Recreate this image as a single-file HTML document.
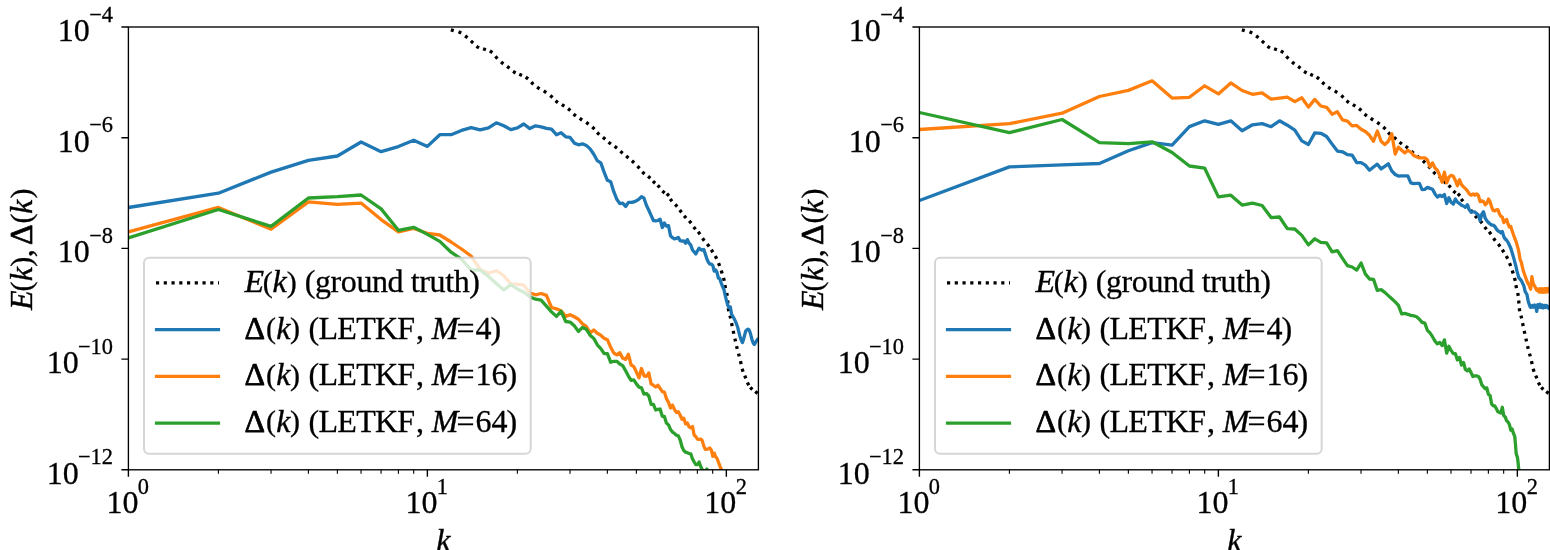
<!DOCTYPE html>
<html><head><meta charset="utf-8"><title>E(k), Δ(k) spectra</title>
<style>
html,body{margin:0;padding:0;background:#fff;}
body{width:1550px;height:550px;overflow:hidden;}
svg{display:block;}
text{font-family:"Liberation Serif","DejaVu Serif",serif;fill:#000;stroke:#000;stroke-width:0.3px;}
.t{font-size:32px;}
.s{font-size:22.4px;}
.i{font-style:italic;stroke-width:0.4px;}
.p{font-size:30px;}
.d{stroke-width:0.75px;}
.ln{fill:none;stroke-width:3.3;stroke-linejoin:round;stroke-linecap:butt;}
</style></head><body>
<svg width="1550" height="550" viewBox="0 0 1550 550">
<rect width="1550" height="550" fill="#fff"/>

<g id="panel0">
<defs><clipPath id="clip0"><rect x="128.4" y="27.0" width="630.0" height="442.8"/></clipPath></defs>
<g clip-path="url(#clip0)">
<path class="ln" d="M450.85 29.80L453.75 30.60M458.54 31.66L461.26 32.94M465.12 35.87L467.48 37.73M470.89 40.89L473.11 42.91M476.41 46.34L478.99 47.86M483.08 48.80L485.92 49.80M489.86 50.95L492.34 52.65M495.34 56.44L497.46 58.56M501.04 61.95L503.36 63.85M507.11 66.39L509.49 68.21M513.02 71.42L515.58 72.98M519.24 74.17L521.96 75.43M525.69 77.12L528.11 78.88M531.17 82.31L533.43 84.29M537.05 87.17L539.55 88.83M543.74 90.98L546.26 92.62M550.25 95.53L552.55 97.47M555.51 100.79L557.89 102.61M561.83 104.60L564.37 106.20M568.05 108.64L570.35 110.56M573.54 114.15L575.86 116.05M579.64 118.39L582.16 120.01M586.18 122.43L588.62 124.17M592.31 127.06L594.49 129.14M597.11 132.57L599.29 134.63M602.94 137.34L605.26 139.26M608.51 142.19L610.89 144.01M614.62 146.28L616.98 148.12M620.36 151.33L622.64 153.27M626.14 156.04L628.46 157.96M631.90 160.78L634.10 162.82M637.47 166.21L639.53 168.39M642.30 171.88L644.50 173.92M648.07 176.31L650.33 178.29M652.92 181.16L655.08 183.24M657.66 185.32L659.74 187.48M662.39 191.10L664.61 193.10M666.87 193.61L668.93 195.79M670.19 198.91L672.01 201.29M675.22 204.36L677.18 206.64M679.68 210.02L681.52 212.38M684.10 215.78L686.10 218.02M689.23 220.86L691.17 223.14M693.66 226.93L695.54 229.27M698.18 231.81L700.02 234.19M702.51 238.29L704.29 240.71M707.30 244.10L709.10 246.50M711.29 249.74L712.91 252.26M715.31 256.07L716.69 258.73M718.55 263.20L719.65 266.00M721.24 270.57L722.16 273.43M723.55 277.94L724.25 280.86M724.90 285.13L725.50 288.07M726.75 292.92L727.25 295.88M727.65 300.51L727.95 303.49M728.25 308.22L728.75 311.18M729.97 315.54L730.63 318.46M731.59 323.13L732.21 326.07M733.19 330.83L733.81 333.77M734.87 338.54L735.53 341.46M736.54 346.04L737.26 348.96M738.53 353.55L739.27 356.45M740.45 361.24L741.15 364.16M742.15 368.77L743.05 371.63M744.74 375.51L745.86 378.29M747.41 382.57L748.79 385.23M750.25 387.33L752.35 389.47M755.22 391.47L757.58 393.33" stroke="#000"/>
<path class="ln" d="M128.4 207.5L218.4 193.2L271.1 172.1L308.4 160.4L337.4 156.0L361.1 142.0L381.1 151.7L398.4 146.6L413.7 140.2L427.4 146.4L439.8 134.7L451.1 134.7L461.5 130.4L471.1 127.6L480.1 129.9L488.5 127.8L496.3 122.8L503.8 125.8L510.8 129.6L517.4 127.8L523.8 124.0L529.8 128.6L535.6 125.8L541.1 126.8L546.4 128.4L551.5 129.1L556.4 134.7L561.1 132.7L565.7 136.8L570.1 137.4L574.3 143.1L578.5 144.8L582.5 143.8L586.3 145.4L590.1 148.9L593.8 154.3L597.3 160.7L600.8 162.9L604.2 172.4L607.4 180.3L610.7 181.8L613.8 191.7L616.8 199.3L619.8 203.6L622.7 203.1L625.6 206.5L628.4 202.3L631.1 202.3L633.8 202.0L636.4 200.8L639.0 199.2L641.5 196.6L644.0 198.2L646.4 205.2L648.8 210.3L651.1 215.4L653.4 220.5L655.7 220.9L657.9 220.5L660.1 219.2L662.3 227.5L664.4 223.0L666.4 226.2L668.5 225.6L670.5 235.8L672.5 237.7L674.4 238.9L676.4 238.3L678.3 237.4L680.1 240.7L682.0 241.2L683.8 240.8L685.6 243.2L687.3 239.6L689.1 243.2L690.8 245.1L692.5 250.0L694.2 252.0L695.8 253.9L697.5 250.8L699.1 248.2L700.7 249.5L702.2 250.1L703.8 249.5L705.3 253.9L706.9 259.0L708.4 262.2L709.8 264.1L711.3 264.1L712.8 265.4L714.2 271.1L715.6 269.9L717.0 272.4L718.4 278.1L719.8 278.8L721.1 282.6L722.5 286.4L723.8 288.9L725.1 294.9L726.5 300.6L727.7 305.0L729.0 307.6L730.3 306.9L731.5 313.9L732.8 316.5L734.0 318.4L735.2 320.9L736.4 323.7L737.7 327.3L738.8 331.8L739.9 336.2L741.2 340.0L742.4 342.6L743.5 339.4L744.7 334.9L745.7 331.1L746.8 329.9L748.0 329.2L749.0 329.9L750.1 332.4L751.1 336.2L752.3 340.7L753.3 343.2L754.3 344.5L755.5 342.6L756.5 340.7L757.5 339.4L758.5 338.5" stroke="#1f77b4"/>
<path class="ln" d="M128.4 231.8L218.4 207.4L271.1 229.2L308.4 201.8L337.4 204.4L361.1 203.1L381.1 219.6L398.4 231.9L413.7 228.5L427.4 233.3L439.8 235.0L451.1 242.0L461.5 249.0L471.1 256.0L480.1 269.4L488.5 273.2L496.3 270.7L503.8 275.7L510.8 283.9L517.4 284.2L523.8 285.2L529.8 292.9L535.6 294.8L541.1 293.5L546.4 295.4L551.5 307.5L556.4 308.8L561.1 310.7L565.7 316.4L570.1 314.7L574.3 316.8L578.5 319.2L582.5 323.9L586.3 326.4L590.1 333.1L593.8 330.0L597.3 333.3L600.8 335.2L604.2 338.4L607.4 339.7L610.7 347.3L613.8 353.0L616.8 354.9L619.8 352.7L622.7 358.1L625.6 359.4L628.4 354.3L631.1 365.0L633.8 366.6L636.4 372.0L639.0 377.7L641.5 368.5L644.0 375.8L646.4 376.4L648.8 372.9L651.1 383.9L653.4 385.2L655.7 387.1L657.9 385.2L660.1 388.4L662.3 391.6L664.4 392.2L666.4 398.6L668.5 402.4L670.5 408.0L672.5 405.1L674.4 409.3L676.4 412.5L678.3 411.8L680.1 415.0L682.0 419.2L683.8 418.2L685.6 423.9L687.3 423.0L689.1 426.8L690.8 427.8L692.5 426.5L694.2 435.3L695.8 436.6L697.5 439.1L699.1 439.5L700.7 439.1L702.2 440.4L703.8 446.1L705.3 449.3L706.9 449.3L708.4 448.7L709.8 448.0L711.3 449.9L712.8 456.3L714.2 453.1L715.6 456.9L717.0 458.2L718.4 462.0L719.8 465.9L721.1 469.0L722.5 472.2L723.8 475.4" stroke="#ff7f0e"/>
<path class="ln" d="M128.4 237.9L218.4 209.5L271.1 226.4L308.4 198.0L337.4 196.7L361.1 195.0L381.1 208.9L398.4 230.3L413.7 227.3L427.4 234.4L439.8 241.4L451.1 252.2L461.5 259.2L471.1 270.0L480.1 270.0L488.5 276.4L496.3 283.4L503.8 290.0L510.8 284.6L517.4 289.0L523.8 292.2L529.8 296.7L535.6 299.2L541.1 300.1L546.4 306.2L551.5 311.9L556.4 316.4L561.1 311.3L565.7 321.5L570.1 322.1L574.3 325.8L578.5 331.4L582.5 327.4L586.3 329.3L590.1 335.2L593.8 338.4L597.3 344.8L600.8 348.6L604.2 353.7L607.4 353.7L610.7 362.3L613.8 361.3L616.8 361.3L619.8 364.0L622.7 365.6L625.6 370.7L628.4 376.1L631.1 380.4L633.8 379.9L636.4 383.9L639.0 387.1L641.5 387.8L644.0 394.1L646.4 393.5L648.8 396.0L651.1 404.3L653.4 404.3L655.7 410.0L657.9 409.4L660.1 409.0L662.3 416.3L664.4 416.4L666.4 423.0L668.5 424.9L670.5 429.4L672.5 432.1L674.4 433.4L676.4 435.3L678.3 435.9L680.1 439.8L682.0 446.8L683.8 450.6L685.6 452.2L687.3 452.7L689.1 453.5L690.8 453.8L692.5 458.9L694.2 462.0L695.8 464.6L697.5 464.6L699.1 462.0L700.7 466.5L702.2 469.7L703.8 471.9L705.3 471.1L706.9 469.0L708.4 472.4L709.8 476.4" stroke="#2ca02c"/>
</g>
<path d="M128.40 469.8 v7 M427.37 469.8 v7 M726.35 469.8 v7" stroke="#000" stroke-width="1.4" fill="none"/>
<path d="M218.40 469.8 v4 M271.05 469.8 v4 M308.40 469.8 v4 M337.37 469.8 v4 M361.05 469.8 v4 M381.06 469.8 v4 M398.40 469.8 v4 M413.69 469.8 v4 M517.37 469.8 v4 M570.02 469.8 v4 M607.37 469.8 v4 M636.35 469.8 v4 M660.02 469.8 v4 M680.04 469.8 v4 M697.37 469.8 v4 M712.67 469.8 v4" stroke="#000" stroke-width="1.1" fill="none"/>
<path d="M128.4 27.00 h-7 M128.4 137.70 h-7 M128.4 248.40 h-7 M128.4 359.10 h-7 M128.4 469.80 h-7" stroke="#000" stroke-width="1.4" fill="none"/>
<rect x="144.0" y="257.8" width="386.7" height="196.0" rx="5" ry="5" fill="#fff" fill-opacity="0.8" stroke="#ccc" stroke-opacity="0.8" stroke-width="2"/>
<path class="ln" d="M156.0 282.8 H219.0" stroke="#000" stroke-dasharray="3.15 4.6"/>
<path class="ln" d="M154.9 329.55 H220.1" stroke="#1f77b4"/>
<path class="ln" d="M154.9 376.3 H220.1" stroke="#ff7f0e"/>
<path class="ln" d="M154.9 423.05 H220.1" stroke="#2ca02c"/>
<text class="t" x="244.6" y="292.4"><tspan class="i">E</tspan><tspan class="p" dx="-1.50" dy="-0.7">(</tspan><tspan class="i" dx="-0.20" dy="0.7">k</tspan><tspan class="p" dx="0.10" dy="-0.7">)</tspan><tspan dy="0.7" dx="-0.5"> </tspan><tspan dx="0.6">(</tspan><tspan letter-spacing="-0.39" dx="-0.6">ground truth)</tspan></text>
<text class="t" x="244.6" y="338.9"><tspan class="d">Δ</tspan><tspan class="p" dx="0.90" dy="-0.7">(</tspan><tspan class="i" dx="0.10" dy="0.7">k</tspan><tspan class="p" dx="-0.40" dy="-0.7">)</tspan><tspan dy="0.7" dx="-0.5"> </tspan><tspan dx="0.9">(</tspan><tspan dx="-0.5" letter-spacing="-0.75">LETKF</tspan><tspan dx="1.7">, </tspan><tspan class="i" dx="-0.4">M</tspan><tspan dx="-1.8">=</tspan><tspan dx="0.9">4</tspan><tspan dx="-0.9">)</tspan></text>
<text class="t" x="244.6" y="385.3"><tspan class="d">Δ</tspan><tspan class="p" dx="0.90" dy="-0.7">(</tspan><tspan class="i" dx="0.10" dy="0.7">k</tspan><tspan class="p" dx="-0.40" dy="-0.7">)</tspan><tspan dy="0.7" dx="-0.5"> </tspan><tspan dx="0.9">(</tspan><tspan dx="-0.5" letter-spacing="-0.75">LETKF</tspan><tspan dx="1.7">, </tspan><tspan class="i" dx="-0.4">M</tspan><tspan dx="-1.8">=</tspan><tspan dx="0.9">1</tspan>6<tspan dx="-0.9">)</tspan></text>
<text class="t" x="244.6" y="431.8"><tspan class="d">Δ</tspan><tspan class="p" dx="0.90" dy="-0.7">(</tspan><tspan class="i" dx="0.10" dy="0.7">k</tspan><tspan class="p" dx="-0.40" dy="-0.7">)</tspan><tspan dy="0.7" dx="-0.5"> </tspan><tspan dx="0.9">(</tspan><tspan dx="-0.5" letter-spacing="-0.75">LETKF</tspan><tspan dx="1.7">, </tspan><tspan class="i" dx="-0.4">M</tspan><tspan dx="-1.8">=</tspan><tspan dx="0.9">6</tspan>4<tspan dx="-0.9">)</tspan></text>
<rect x="128.4" y="27.0" width="630.0" height="442.8" fill="none" stroke="#000" stroke-width="1.35"/>
<text class="t" x="106.4" y="512.6">10<tspan class="s" dx="-0.6" dy="-19.0">0</tspan></text>
<text class="t" x="405.4" y="512.6">10<tspan class="s" dx="-0.6" dy="-19.0">1</tspan></text>
<text class="t" x="704.3" y="512.6">10<tspan class="s" dx="-0.6" dy="-19.0">2</tspan></text>
<text class="t" text-anchor="end" x="113.0" y="40.9">10<tspan class="s" dx="-0.7" dy="-19.3">−4</tspan></text>
<text class="t" text-anchor="end" x="113.0" y="151.6">10<tspan class="s" dx="-0.7" dy="-19.3">−6</tspan></text>
<text class="t" text-anchor="end" x="113.0" y="262.3">10<tspan class="s" dx="-0.7" dy="-19.3">−8</tspan></text>
<text class="t" text-anchor="end" x="113.0" y="373.0">10<tspan class="s" dx="-0.7" dy="-19.3">−10</tspan></text>
<text class="t" text-anchor="end" x="113.0" y="483.7">10<tspan class="s" dx="-0.7" dy="-19.3">−12</tspan></text>
<text class="t i" text-anchor="middle" x="443.4" y="551.3">k</text>
<text class="t" transform="translate(31.9 310.0) rotate(-90)"><tspan class="i">E</tspan><tspan class="p" dx="-1.10" dy="-0.7">(</tspan><tspan class="i" dx="0.20" dy="0.7">k</tspan><tspan class="p" dx="0.40" dy="-0.7">)</tspan><tspan dy="0.7" dx="-0.5">, </tspan><tspan class="d" dx="-3.8">Δ</tspan><tspan class="p" dx="1.00" dy="-0.7">(</tspan><tspan class="i" dx="-0.50" dy="0.7">k</tspan><tspan class="p" dx="1.30" dy="-0.7">)</tspan></text>
</g>
<g id="panel1">
<defs><clipPath id="clip1"><rect x="919.4" y="27.0" width="630.0000000000001" height="442.8"/></clipPath></defs>
<g clip-path="url(#clip1)">
<path class="ln" d="M1241.85 29.80L1244.75 30.60M1249.54 31.66L1252.26 32.94M1256.12 35.87L1258.48 37.73M1261.89 40.89L1264.11 42.91M1267.41 46.34L1269.99 47.86M1274.08 48.80L1276.92 49.80M1280.86 50.95L1283.34 52.65M1286.34 56.44L1288.46 58.56M1292.04 61.95L1294.36 63.85M1298.11 66.39L1300.49 68.21M1304.02 71.42L1306.58 72.98M1310.24 74.17L1312.96 75.43M1316.69 77.12L1319.11 78.88M1322.17 82.31L1324.43 84.29M1328.05 87.17L1330.55 88.83M1334.74 90.98L1337.26 92.62M1341.25 95.53L1343.55 97.47M1346.51 100.79L1348.89 102.61M1352.83 104.60L1355.37 106.20M1359.05 108.64L1361.35 110.56M1364.54 114.15L1366.86 116.05M1370.64 118.39L1373.16 120.01M1377.18 122.43L1379.62 124.17M1383.31 127.06L1385.49 129.14M1388.11 132.57L1390.29 134.63M1393.94 137.34L1396.26 139.26M1399.51 142.19L1401.89 144.01M1405.62 146.28L1407.98 148.12M1411.36 151.33L1413.64 153.27M1417.14 156.04L1419.46 157.96M1422.90 160.78L1425.10 162.82M1428.47 166.21L1430.53 168.39M1433.30 171.88L1435.50 173.92M1439.07 176.31L1441.33 178.29M1443.92 181.16L1446.08 183.24M1448.66 185.32L1450.74 187.48M1453.39 191.10L1455.61 193.10M1457.87 193.61L1459.93 195.79M1461.19 198.91L1463.01 201.29M1466.22 204.36L1468.18 206.64M1470.68 210.02L1472.52 212.38M1475.10 215.78L1477.10 218.02M1480.23 220.86L1482.17 223.14M1484.66 226.93L1486.54 229.27M1489.18 231.81L1491.02 234.19M1493.51 238.29L1495.29 240.71M1498.30 244.10L1500.10 246.50M1502.29 249.74L1503.91 252.26M1506.31 256.07L1507.69 258.73M1509.55 263.20L1510.65 266.00M1512.24 270.57L1513.16 273.43M1514.55 277.94L1515.25 280.86M1515.90 285.13L1516.50 288.07M1517.75 292.92L1518.25 295.88M1518.65 300.51L1518.95 303.49M1519.25 308.22L1519.75 311.18M1520.97 315.54L1521.63 318.46M1522.59 323.13L1523.21 326.07M1524.19 330.83L1524.81 333.77M1525.87 338.54L1526.53 341.46M1527.54 346.04L1528.26 348.96M1529.53 353.55L1530.27 356.45M1531.45 361.24L1532.15 364.16M1533.15 368.77L1534.05 371.63M1535.74 375.51L1536.86 378.29M1538.41 382.57L1539.79 385.23M1541.25 387.33L1543.35 389.47M1546.22 391.47L1548.58 393.33" stroke="#000"/>
<path class="ln" d="M919.4 200.5L1009.4 166.9L1062.1 164.8L1099.4 163.5L1128.4 150.8L1152.1 142.6L1172.1 145.2L1189.4 126.6L1204.7 120.8L1218.4 124.3L1230.8 120.8L1242.1 130.7L1252.5 124.8L1262.1 123.6L1271.1 126.7L1279.5 120.8L1287.3 125.2L1294.8 130.2L1301.8 140.9L1308.4 144.5L1314.8 132.9L1320.8 133.3L1326.6 136.5L1332.1 144.1L1337.4 151.1L1342.5 151.8L1347.4 154.6L1352.1 155.2L1356.7 162.6L1361.1 162.6L1365.3 165.1L1369.5 170.2L1373.5 167.0L1377.3 164.2L1381.1 168.9L1384.8 166.3L1388.3 163.8L1391.8 170.9L1395.2 174.5L1398.4 176.1L1401.7 175.8L1404.8 175.8L1407.8 175.8L1410.8 182.8L1413.7 183.7L1416.6 183.4L1419.4 183.4L1422.1 189.6L1424.8 189.3L1427.4 187.4L1430.0 188.4L1432.5 189.3L1435.0 193.9L1437.4 197.1L1439.8 195.2L1442.1 196.5L1444.4 194.6L1446.7 203.5L1448.9 197.8L1451.1 202.2L1453.3 204.1L1455.4 199.0L1457.4 202.2L1459.5 203.5L1461.5 205.4L1463.5 206.0L1465.4 207.3L1467.4 204.8L1469.3 209.9L1471.1 212.4L1473.0 211.8L1474.8 211.8L1476.6 213.7L1478.3 214.9L1480.1 220.7L1481.8 214.3L1483.5 211.8L1485.2 218.1L1486.8 220.7L1488.5 222.6L1490.1 223.9L1491.7 225.1L1493.2 225.1L1494.8 226.4L1496.3 228.9L1497.9 230.9L1499.4 231.5L1500.8 232.8L1502.3 231.5L1503.8 236.6L1505.2 239.1L1506.0 239.4L1508.5 243.2L1510.8 248.3L1513.5 257.2L1516.2 267.4L1516.8 270.4L1518.7 277.4L1521.3 280.6L1523.8 285.7L1525.1 291.4L1527.0 294.6L1528.3 301.6L1530.2 307.0L1531.0 307.4L1532.2 305.6L1533.3 307.2L1534.5 305.0L1535.6 305.9L1536.7 311.4L1537.8 304.7L1538.9 307.2L1540.0 304.3L1541.1 307.6L1542.2 305.0L1543.3 308.0L1544.3 305.4L1545.4 307.4L1546.4 305.4L1547.5 307.6L1548.5 306.4L1549.5 309.9" stroke="#1f77b4"/>
<path class="ln" d="M919.4 129.5L1009.4 123.7L1062.1 113.2L1099.4 96.5L1128.4 90.4L1152.1 80.8L1172.1 98.1L1189.4 97.3L1204.7 85.8L1218.4 93.9L1230.8 82.9L1242.1 90.5L1252.5 94.3L1262.1 92.8L1271.1 99.1L1279.5 98.1L1287.3 97.1L1294.8 101.6L1301.8 97.8L1308.4 107.1L1314.8 99.4L1320.8 106.0L1326.6 107.3L1332.1 114.3L1337.4 111.8L1342.5 119.8L1347.4 121.1L1352.1 125.8L1356.7 125.4L1361.1 129.2L1365.3 131.5L1369.5 135.3L1373.5 141.3L1377.3 131.0L1381.1 141.2L1384.8 144.5L1388.3 141.2L1391.8 133.8L1395.2 154.1L1398.4 147.1L1401.7 150.3L1404.8 152.9L1407.8 150.3L1410.8 152.2L1413.7 155.4L1416.6 156.7L1419.4 157.9L1422.1 157.9L1424.8 157.9L1427.4 159.9L1430.0 166.9L1432.5 163.0L1435.0 168.1L1437.4 170.2L1439.8 175.6L1442.1 182.3L1444.4 172.1L1446.7 182.9L1448.9 177.2L1451.1 175.3L1453.3 176.2L1455.4 180.4L1457.4 185.8L1459.5 179.8L1461.5 184.6L1463.5 186.8L1465.4 188.7L1467.4 190.9L1469.3 193.9L1471.1 195.2L1473.0 193.9L1474.8 195.2L1476.6 193.9L1478.3 195.2L1480.1 201.6L1481.8 200.9L1483.5 201.6L1485.2 204.8L1486.8 203.5L1488.5 199.0L1490.1 201.6L1491.7 207.3L1493.2 210.5L1494.8 210.9L1496.3 209.9L1497.9 209.6L1499.4 213.7L1500.8 216.2L1502.3 216.9L1503.8 222.6L1505.2 220.7L1506.6 219.4L1508.0 223.9L1509.4 227.0L1510.8 226.4L1512.1 230.9L1513.5 234.7L1514.8 238.5L1516.2 241.9L1518.7 250.9L1520.0 259.1L1521.3 262.3L1523.2 270.6L1524.8 275.0L1526.3 279.5L1527.8 283.0L1529.3 285.8L1530.6 289.3L1531.9 276.7L1533.3 283.9L1534.5 285.9L1535.6 287.9L1536.7 290.2L1537.8 289.0L1538.9 292.0L1540.0 288.8L1541.1 292.2L1542.2 288.7L1543.3 292.2L1544.3 288.6L1545.4 292.1L1546.4 288.5L1547.5 291.9L1548.5 288.4L1549.5 290.4" stroke="#ff7f0e"/>
<path class="ln" d="M919.4 112.5L1009.4 132.6L1062.1 119.5L1099.4 142.6L1128.4 143.6L1152.1 141.8L1172.1 152.5L1189.4 166.0L1204.7 168.2L1218.4 196.9L1230.8 195.2L1242.1 205.1L1252.5 203.2L1262.1 205.5L1271.1 217.6L1279.5 217.0L1287.3 228.7L1294.8 229.0L1301.8 235.4L1308.4 244.9L1314.8 238.8L1320.8 242.4L1326.6 242.8L1332.1 251.9L1337.4 250.7L1342.5 258.3L1347.4 265.6L1352.1 267.0L1356.7 270.1L1361.1 263.0L1365.3 273.9L1369.5 279.0L1373.5 279.4L1377.3 290.5L1381.1 289.6L1384.8 292.4L1388.3 295.6L1391.8 298.8L1395.2 301.9L1398.4 305.4L1401.7 314.0L1404.8 313.4L1407.8 314.3L1410.8 315.4L1413.7 315.8L1416.6 316.8L1419.4 319.2L1422.1 322.4L1424.8 323.1L1427.4 330.3L1430.0 332.9L1432.5 336.7L1435.0 341.1L1437.4 343.9L1439.8 342.4L1442.1 345.6L1444.4 339.9L1446.7 353.2L1448.9 346.2L1451.1 350.4L1453.3 353.6L1455.3 353.6L1457.4 359.9L1459.5 357.4L1461.5 365.0L1463.5 362.5L1465.4 369.5L1467.3 370.8L1469.2 368.9L1471.1 372.7L1472.9 376.5L1474.8 375.9L1476.6 375.9L1478.4 376.5L1480.0 379.0L1481.8 384.8L1483.5 386.7L1485.1 388.6L1486.8 387.9L1488.4 394.3L1490.1 395.6L1491.6 403.9L1493.3 405.8L1494.8 406.0L1496.3 408.6L1497.9 411.8L1499.4 412.4L1500.8 413.0L1502.3 407.3L1503.7 415.6L1505.2 416.9L1506.6 420.7L1508.0 421.9L1509.4 424.5L1510.8 430.2L1512.1 428.9L1513.5 433.4L1514.8 436.6L1515.4 443.6L1516.2 453.8L1517.5 457.6L1518.1 462.7L1518.7 469.0L1519.4 476.7" stroke="#2ca02c"/>
</g>
<path d="M919.40 469.8 v7 M1218.37 469.8 v7 M1517.35 469.8 v7" stroke="#000" stroke-width="1.4" fill="none"/>
<path d="M1009.40 469.8 v4 M1062.05 469.8 v4 M1099.40 469.8 v4 M1128.37 469.8 v4 M1152.05 469.8 v4 M1172.06 469.8 v4 M1189.40 469.8 v4 M1204.69 469.8 v4 M1308.37 469.8 v4 M1361.02 469.8 v4 M1398.37 469.8 v4 M1427.35 469.8 v4 M1451.02 469.8 v4 M1471.04 469.8 v4 M1488.37 469.8 v4 M1503.67 469.8 v4" stroke="#000" stroke-width="1.1" fill="none"/>
<path d="M919.4 27.00 h-7 M919.4 137.70 h-7 M919.4 248.40 h-7 M919.4 359.10 h-7 M919.4 469.80 h-7" stroke="#000" stroke-width="1.4" fill="none"/>
<rect x="935.0" y="257.8" width="386.7" height="196.0" rx="5" ry="5" fill="#fff" fill-opacity="0.8" stroke="#ccc" stroke-opacity="0.8" stroke-width="2"/>
<path class="ln" d="M947.0 282.8 H1010.0" stroke="#000" stroke-dasharray="3.15 4.6"/>
<path class="ln" d="M945.9 329.55 H1011.1" stroke="#1f77b4"/>
<path class="ln" d="M945.9 376.3 H1011.1" stroke="#ff7f0e"/>
<path class="ln" d="M945.9 423.05 H1011.1" stroke="#2ca02c"/>
<text class="t" x="1035.6" y="292.4"><tspan class="i">E</tspan><tspan class="p" dx="-1.50" dy="-0.7">(</tspan><tspan class="i" dx="-0.20" dy="0.7">k</tspan><tspan class="p" dx="0.10" dy="-0.7">)</tspan><tspan dy="0.7" dx="-0.5"> </tspan><tspan dx="0.6">(</tspan><tspan letter-spacing="-0.39" dx="-0.6">ground truth)</tspan></text>
<text class="t" x="1035.6" y="338.9"><tspan class="d">Δ</tspan><tspan class="p" dx="0.90" dy="-0.7">(</tspan><tspan class="i" dx="0.10" dy="0.7">k</tspan><tspan class="p" dx="-0.40" dy="-0.7">)</tspan><tspan dy="0.7" dx="-0.5"> </tspan><tspan dx="0.9">(</tspan><tspan dx="-0.5" letter-spacing="-0.75">LETKF</tspan><tspan dx="1.7">, </tspan><tspan class="i" dx="-0.4">M</tspan><tspan dx="-1.8">=</tspan><tspan dx="0.9">4</tspan><tspan dx="-0.9">)</tspan></text>
<text class="t" x="1035.6" y="385.3"><tspan class="d">Δ</tspan><tspan class="p" dx="0.90" dy="-0.7">(</tspan><tspan class="i" dx="0.10" dy="0.7">k</tspan><tspan class="p" dx="-0.40" dy="-0.7">)</tspan><tspan dy="0.7" dx="-0.5"> </tspan><tspan dx="0.9">(</tspan><tspan dx="-0.5" letter-spacing="-0.75">LETKF</tspan><tspan dx="1.7">, </tspan><tspan class="i" dx="-0.4">M</tspan><tspan dx="-1.8">=</tspan><tspan dx="0.9">1</tspan>6<tspan dx="-0.9">)</tspan></text>
<text class="t" x="1035.6" y="431.8"><tspan class="d">Δ</tspan><tspan class="p" dx="0.90" dy="-0.7">(</tspan><tspan class="i" dx="0.10" dy="0.7">k</tspan><tspan class="p" dx="-0.40" dy="-0.7">)</tspan><tspan dy="0.7" dx="-0.5"> </tspan><tspan dx="0.9">(</tspan><tspan dx="-0.5" letter-spacing="-0.75">LETKF</tspan><tspan dx="1.7">, </tspan><tspan class="i" dx="-0.4">M</tspan><tspan dx="-1.8">=</tspan><tspan dx="0.9">6</tspan>4<tspan dx="-0.9">)</tspan></text>
<rect x="919.4" y="27.0" width="630.0000000000001" height="442.8" fill="none" stroke="#000" stroke-width="1.35"/>
<text class="t" x="897.4" y="512.6">10<tspan class="s" dx="-0.6" dy="-19.0">0</tspan></text>
<text class="t" x="1196.4" y="512.6">10<tspan class="s" dx="-0.6" dy="-19.0">1</tspan></text>
<text class="t" x="1495.3" y="512.6">10<tspan class="s" dx="-0.6" dy="-19.0">2</tspan></text>
<text class="t" text-anchor="end" x="904.0" y="40.9">10<tspan class="s" dx="-0.7" dy="-19.3">−4</tspan></text>
<text class="t" text-anchor="end" x="904.0" y="151.6">10<tspan class="s" dx="-0.7" dy="-19.3">−6</tspan></text>
<text class="t" text-anchor="end" x="904.0" y="262.3">10<tspan class="s" dx="-0.7" dy="-19.3">−8</tspan></text>
<text class="t" text-anchor="end" x="904.0" y="373.0">10<tspan class="s" dx="-0.7" dy="-19.3">−10</tspan></text>
<text class="t" text-anchor="end" x="904.0" y="483.7">10<tspan class="s" dx="-0.7" dy="-19.3">−12</tspan></text>
<text class="t i" text-anchor="middle" x="1234.4" y="551.3">k</text>
<text class="t" transform="translate(822.9 310.0) rotate(-90)"><tspan class="i">E</tspan><tspan class="p" dx="-1.10" dy="-0.7">(</tspan><tspan class="i" dx="0.20" dy="0.7">k</tspan><tspan class="p" dx="0.40" dy="-0.7">)</tspan><tspan dy="0.7" dx="-0.5">, </tspan><tspan class="d" dx="-3.8">Δ</tspan><tspan class="p" dx="1.00" dy="-0.7">(</tspan><tspan class="i" dx="-0.50" dy="0.7">k</tspan><tspan class="p" dx="1.30" dy="-0.7">)</tspan></text>
</g>
</svg>
</body></html>
